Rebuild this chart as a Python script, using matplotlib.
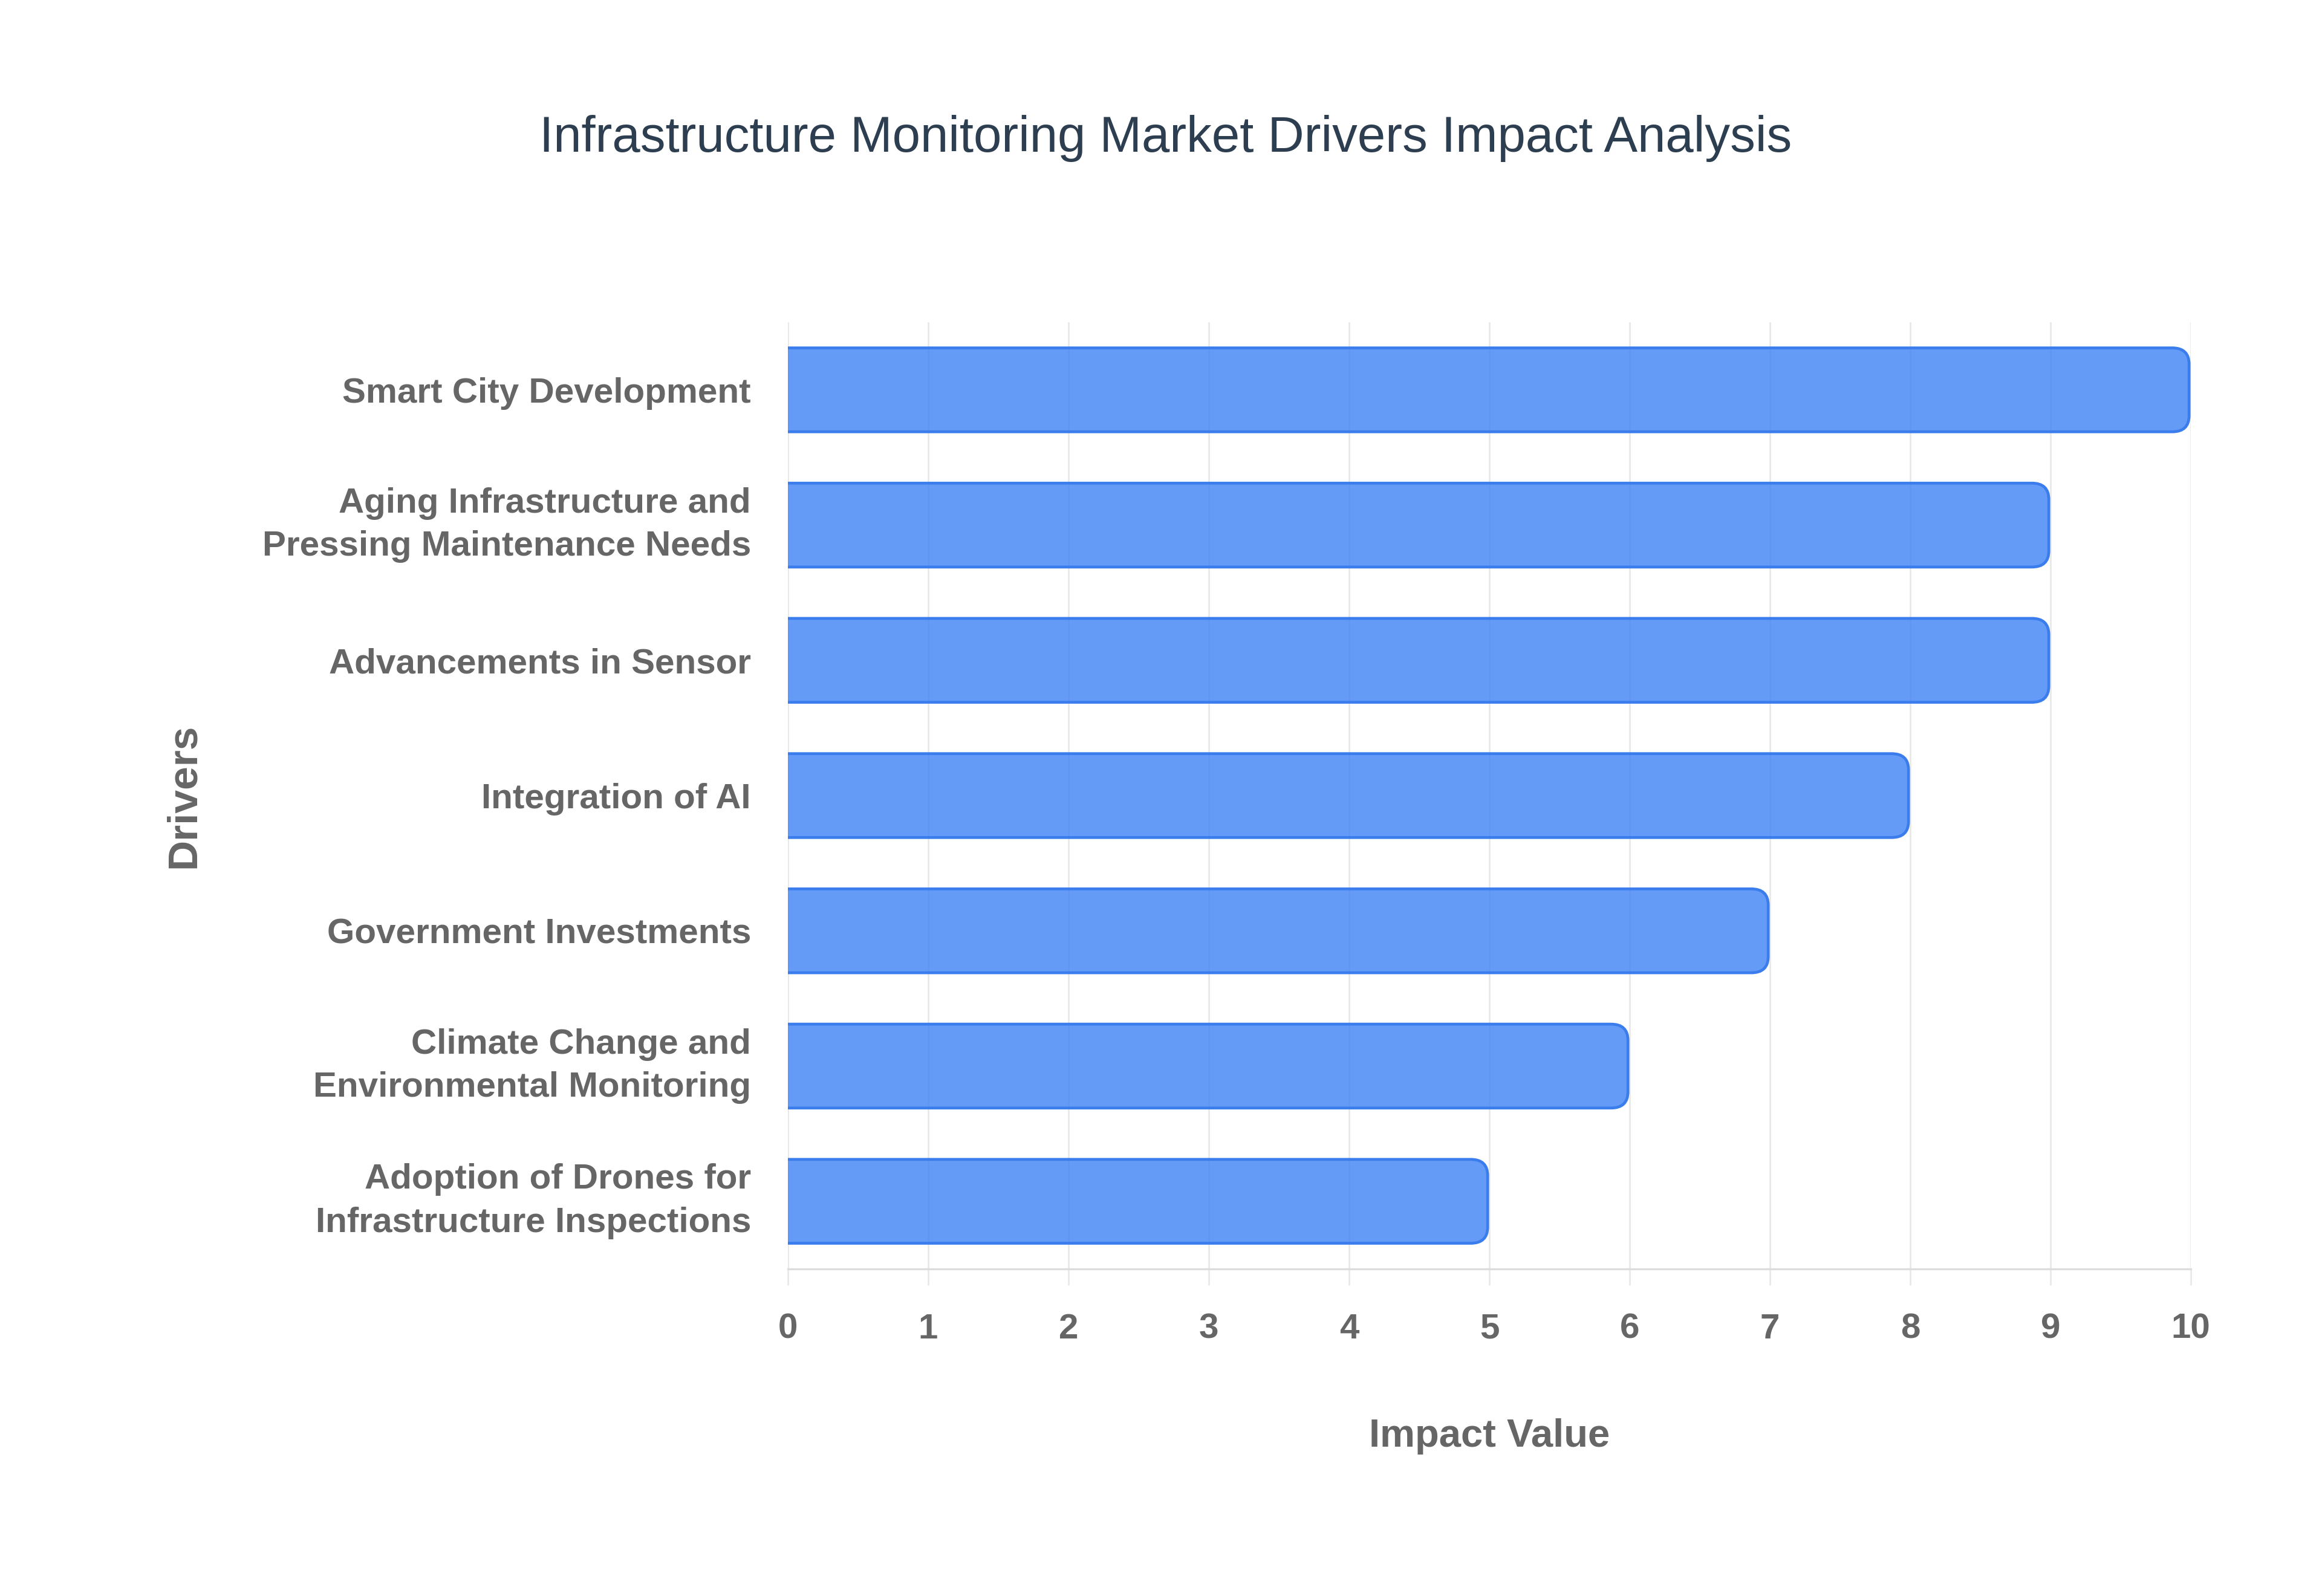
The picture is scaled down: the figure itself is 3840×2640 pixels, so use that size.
import matplotlib
matplotlib.use("Agg")
import matplotlib.pyplot as plt
from matplotlib.patches import FancyBboxPatch, Rectangle

categories = [
    "Smart City Development",
    "Aging Infrastructure and\nPressing Maintenance Needs",
    "Advancements in Sensor",
    "Integration of AI",
    "Government Investments",
    "Climate Change and\nEnvironmental Monitoring",
    "Adoption of Drones for\nInfrastructure Inspections",
]
impact_values = [10, 9, 9, 8, 7, 6, 5]
x_ticks = list(range(0, 11))

title_text = "Infrastructure Monitoring Market Drivers Impact Analysis"
x_title = "Impact Value"
y_title = "Drivers"

FONT = ["Liberation Sans", "DejaVu Sans"]
plt.rcParams["font.family"] = FONT

W, H = 3840, 2640
DPI = 100
fig = plt.figure(figsize=(W / DPI, H / DPI), dpi=DPI, facecolor="white")

left, right, top, bottom = 1303, 3623, 533, 2099
ax = fig.add_axes([left / W, 1 - bottom / H, (right - left) / W, (bottom - top) / H])
ax.set_facecolor("white")

grid_col = "#e6e6e6"
ax.set_xlim(0, 10)
ax.set_ylim(len(categories) - 0.5, -0.5)
ax.set_xticks(x_ticks)
ax.set_xticklabels([str(t) for t in x_ticks])
ax.set_yticks(range(len(categories)))
ax.set_yticklabels(categories, linespacing=1.42)

ax.grid(axis="x", color=grid_col, linewidth=1.8, zorder=0)
ax.set_axisbelow(True)

bars = ax.barh(range(len(categories)), impact_values, height=0.62)
fill = (66 / 255, 133 / 255, 244 / 255, 0.82)
edge = (59 / 255, 125 / 255, 237 / 255, 1.0)
clip = Rectangle((0, -1), 10.2, len(categories) + 2, transform=ax.transData)
for rect in bars:
    x0, y0 = rect.get_x(), rect.get_y()
    w, h = rect.get_width(), rect.get_height()
    rect.remove()
    r = 0.12
    p = FancyBboxPatch((x0 - 0.3, y0), w + 0.3 - 0.012, h,
                       boxstyle=f"round,pad=0,rounding_size={r}",
                       mutation_aspect=1.0,
                       facecolor=fill, edgecolor=edge, linewidth=3.4, zorder=2)
    ax.add_patch(p)
    p.set_clip_path(clip)

for s in ["top", "right", "left"]:
    ax.spines[s].set_visible(False)
ax.spines["bottom"].set_color("#dddddd")
ax.spines["bottom"].set_linewidth(2.4)

ax.tick_params(axis="x", length=19.5, width=1.8, color=grid_col, pad=33,
               labelsize=42, labelcolor="#666666")
ax.tick_params(axis="y", length=0, pad=44, labelsize=42, labelcolor="#666666")
for lab in ax.get_xticklabels() + ax.get_yticklabels():
    lab.set_fontweight("bold")
for lab in ax.get_yticklabels():
    if "\n" in lab.get_text():
        lab.set_va("center")

ax.set_xlabel(x_title, fontsize=47, fontweight="bold", color="#666666")
ax.xaxis.set_label_coords(0.5, (H - 2376 - (H - bottom)) / (bottom - top))
ax.xaxis.label.set_va("center")
ax.set_ylabel(y_title, fontsize=50, fontweight="bold", color="#666666")
ax.yaxis.set_label_coords((304 - left) / (right - left), 0.5)
ax.yaxis.label.set_va("center")

fig.text(0.502, 1 - 229 / H, title_text, ha="center", va="center",
         fontsize=60, color="#2c3e50")

fig.savefig("out.png", dpi=DPI, facecolor="white")
